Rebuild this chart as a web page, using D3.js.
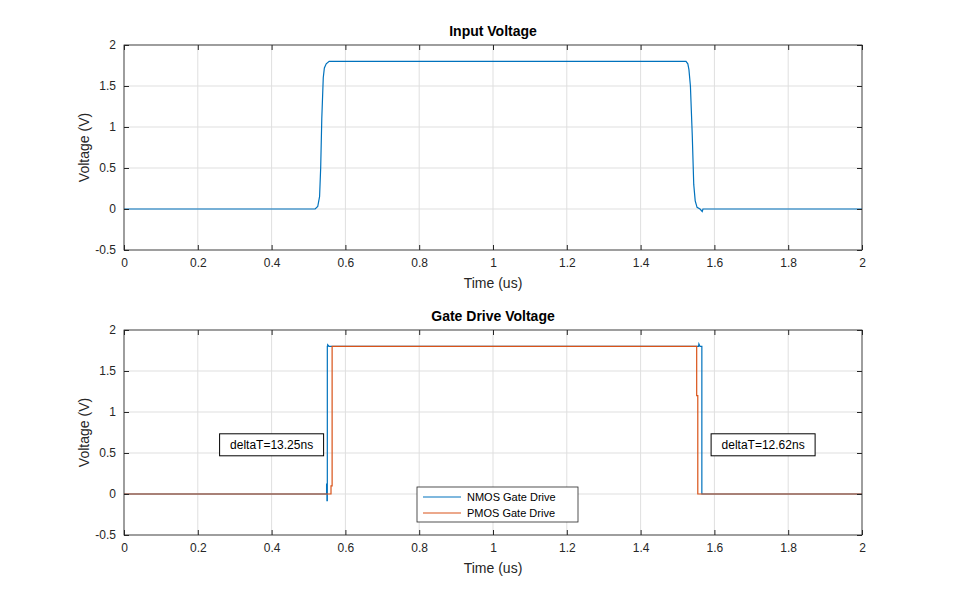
<!DOCTYPE html>
<html><head><meta charset="utf-8">
<script src="https://cdn.jsdelivr.net/npm/d3@7"></script>
<style>body{margin:0;background:#fff;font-family:"Liberation Sans",Arial,sans-serif;}</style>
</head><body><svg id="c" width="954" height="602"></svg>
<script>
// time in us, voltage in V
var inputT = [0, 0.518, 0.525, 0.530, 0.533, 0.536, 0.540, 0.543, 0.548, 0.556, 1.523, 1.528, 1.531, 1.535, 1.540, 1.544, 1.548, 1.553, 1.561, 1.567, 1.569, 2];
var inputV = [0, 0, 0.03, 0.15, 0.5, 1.1, 1.6, 1.72, 1.77, 1.8, 1.8, 1.77, 1.7, 1.5, 0.9, 0.3, 0.1, 0.02, 0, -0.03, 0, 0];
var nmosT = [0, 0.549, 0.549, 0.550, 0.550, 0.551, 0.551, 0.552, 0.552, 0.556, 1.557, 1.558, 1.561, 1.565, 1.566, 1.566, 2];
var nmosV = [0, 0, 0.12, 0.12, -0.08, -0.08, 1.8, 1.8, 1.82, 1.8, 1.8, 1.83, 1.8, 1.8, 1.8, 0, 0];
var pmosT = [0, 0.561, 0.561, 0.564, 0.564, 0.566, 1.552, 1.552, 1.555, 1.555, 2];
var pmosV = [0, 0, 0.1, 0.1, 1.8, 1.8, 1.8, 1.2, 1.2, 0, 0];
var xTicks = [0, 0.2, 0.4, 0.6, 0.8, 1, 1.2, 1.4, 1.6, 1.8, 2];
var yTicks = [-0.5, 0, 0.5, 1, 1.5, 2];
var annots = [{t: 0.40, v: 0.6, label: "deltaT=13.25ns"}, {t: 1.732, v: 0.6, label: "deltaT=12.62ns"}];
var legendNames = ["NMOS Gate Drive", "PMOS Gate Drive"];
var colors = ["#0072BD", "#D95319"];

var svg = d3.select('#c');
var left = 124, right = 862;
var fmt = function(d) { return String(d); };

function panel(top, bottom, title, series) {
  var x = d3.scaleLinear().domain([0, 2]).range([left, right]);
  var y = d3.scaleLinear().domain([-0.5, 2]).range([bottom, top]);
  var g = svg.append('g');
  xTicks.forEach(function(t) {
    g.append('line').attr('x1', x(t)).attr('x2', x(t)).attr('y1', top).attr('y2', bottom).attr('stroke', '#dfdfdf');
  });
  yTicks.forEach(function(t) {
    g.append('line').attr('x1', left).attr('x2', right).attr('y1', y(t)).attr('y2', y(t)).attr('stroke', '#dfdfdf');
  });
  var line = d3.line().x(function(d) { return x(d[0]); }).y(function(d) { return y(d[1]); });
  series.forEach(function(s) {
    g.append('path').datum(d3.zip(s.t, s.v)).attr('d', line).attr('fill', 'none').attr('stroke', s.color).attr('stroke-width', 1.2);
  });
  g.append('rect').attr('x', left).attr('y', top).attr('width', right - left).attr('height', bottom - top).attr('fill', 'none').attr('stroke', '#262626').attr('stroke-width', 0.8);
  var ax = d3.axisBottom(x).tickValues(xTicks).tickSize(-5).tickSizeOuter(0).tickPadding(8).tickFormat(fmt);
  var axT = d3.axisTop(x).tickValues(xTicks).tickSize(-5).tickSizeOuter(0).tickFormat('');
  var ay = d3.axisLeft(y).tickValues(yTicks).tickSize(-5).tickSizeOuter(0).tickPadding(8).tickFormat(fmt);
  var ayR = d3.axisRight(y).tickValues(yTicks).tickSize(-5).tickSizeOuter(0).tickFormat('');
  [[ax, 'translate(0,' + bottom + ')'], [axT, 'translate(0,' + top + ')'], [ay, 'translate(' + left + ',0)'], [ayR, 'translate(' + right + ',0)']].forEach(function(a) {
    var ag = g.append('g').attr('transform', a[1]).call(a[0]);
    ag.select('.domain').remove();
    ag.selectAll('line').attr('stroke', '#262626');
    ag.selectAll('text').attr('fill', '#262626').style('font-size', '12px').style('font-family', '"Liberation Sans",Arial,sans-serif');
  });
  g.append('text').attr('x', (left + right) / 2).attr('y', top - 9).attr('text-anchor', 'middle').style('font-size', '14px').style('font-weight', 'bold').attr('fill', '#000').text(title);
  g.append('text').attr('x', (left + right) / 2).attr('y', bottom + 38).attr('text-anchor', 'middle').style('font-size', '14px').attr('fill', '#262626').text('Time (us)');
  g.append('text').attr('transform', 'translate(' + (left - 35) + ',' + ((top + bottom) / 2) + ') rotate(-90)').attr('text-anchor', 'middle').style('font-size', '14px').attr('fill', '#262626').text('Voltage (V)');
  return {g: g, x: x, y: y};
}

panel(45, 250, 'Input Voltage', [{t: inputT, v: inputV, color: colors[0]}]);
var p2 = panel(330, 535, 'Gate Drive Voltage', [{t: nmosT, v: nmosV, color: colors[0]}, {t: pmosT, v: pmosV, color: colors[1]}]);

annots.forEach(function(a) {
  var cx = p2.x(a.t), cy = p2.y(a.v);
  var grp = p2.g.append('g');
  grp.append('rect').attr('x', cx - 52).attr('y', cy - 11).attr('width', 104).attr('height', 22).attr('fill', '#fff').attr('stroke', '#000');
  grp.append('text').attr('x', cx).attr('y', cy + 4.5).attr('text-anchor', 'middle').style('font-size', '12px').attr('fill', '#000').text(a.label);
});

var lg = p2.g.append('g').attr('transform', 'translate(417,487)');
lg.append('rect').attr('width', 161).attr('height', 35).attr('fill', '#fff').attr('stroke', '#262626').attr('stroke-width', 0.8);
legendNames.forEach(function(n, i) {
  var yy = 10 + i * 16;
  lg.append('line').attr('x1', 6).attr('x2', 44).attr('y1', yy).attr('y2', yy).attr('stroke', colors[i]).attr('stroke-width', 1.2);
  lg.append('text').attr('x', 50).attr('y', yy + 4).style('font-size', '11px').attr('fill', '#000').text(n);
});
</script></body></html>
